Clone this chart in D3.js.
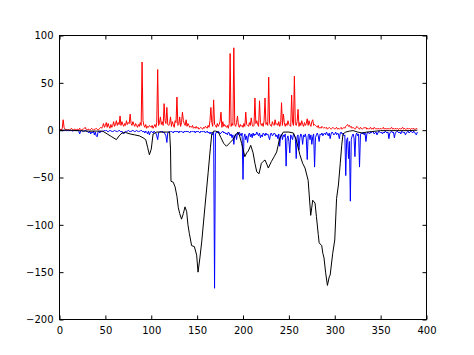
<!DOCTYPE html>
<html>
<head>
<meta charset="utf-8">
<script src="https://cdn.jsdelivr.net/npm/d3@7"></script>
<style>
  body { margin: 0; background: #fff; }
  text { font-family: "DejaVu Sans", sans-serif; font-size: 10px; fill: #000; }
</style>
</head>
<body>
<div id="chart"></div>
<script>
// tick values
var xTicks = [0, 50, 100, 150, 200, 250, 300, 350, 400];
var yTicks = [-200, -150, -100, -50, 0, 50, 100];

// red series, one value per x = 0..390
var redValues = [
  0,1,0,2,11,3,1,0,1,0, 1,0,1,2,1,0,1,1,0,1, 1,0,2,1,0,1,1,2,3,1, 0,1,1,0,1,2,1,0,1,1,
  2,1,0,1,2,3,2,4,7,3, 5,8,3,7,4,2,6,3,5,9, 4,6,10,5,8,6,15,5,9,6, 4,7,5,10,6,8,7,17,7,5,
  9,6,4,7,5,3,6,4,8,5, 72,10,5,3,6,2,4,3,5,4, 3,5,2,4,6,3,8,64,5,8, 14,6,9,5,28,10,7,24,6,5,
  7,14,4,9,6,3,10,8,35,5, 6,14,4,8,19,10,7,5,11,4, 7,5,3,4,3,5,2,3,2,4, 2,3,1,2,3,2,1,3,2,4,
  3,2,5,3,10,24,8,4,32,6, 5,3,7,4,6,9,19,3,9,4, 6,4,3,5,2,7,81,4,7,5, 87,6,4,8,15,5,3,6,4,5,
  3,7,4,19,6,5,4,8,5,13, 6,4,5,34,7,10,6,4,31,8, 5,7,4,10,34,6,8,5,56,7, 5,4,9,6,5,11,6,7,5,9,
  4,6,29,5,17,8,4,7,5,10, 6,5,4,37,8,5,57,7,5,9, 22,4,8,5,10,6,4,8,5,7, 12,5,10,6,4,9,11,5,6,5,
  4,3,5,2,3,2,4,3,2,3, 2,3,1,2,3,2,1,2,3,2, 1,2,3,1,2,1,2,3,1,2, 3,2,4,5,6,4,5,3,4,2,
  3,2,1,2,4,3,2,1,3,2, 1,2,3,2,3,1,2,1,2,3, 1,2,1,3,2,1,2,1,2,1, 2,1,2,3,1,2,1,2,1,2,
  1,2,3,1,2,1,2,1,2,1, 1,2,1,2,3,1,2,1,1,2, 1,2,1,1,2,1,2,1,1,2, 1
];

// blue series, one value per x = 0..390
var blueValues = [
  0,-1,0,-1,0,-1,0,0,-1,0, -1,0,-1,0,-1,-1,0,-1,0,-1, 0,-1,-4,-1,0,-1,-2,-1,0,-1, -1,-2,-3,-1,-4,-2,-3,-1,-5,-2,
  -6,-7,-2,-1,-3,-1,-2,-1,-1,0, -1,0,-1,-2,-1,0,-1,-1,-2,-1, 0,-1,-1,-2,-1,0,-1,-2,-1,-3, -4,-2,-1,-2,-1,0,-1,-2,-1,-1,
  0,-1,-2,-1,0,-1,-2,-1,-1,0, -1,-2,-1,-3,-1,-2,-4,-1,-5,-2, -1,-2,-3,-1,-2,-3,-6,-10,-3,-2, -1,-2,-1,-3,-2,-4,-6,-13,-3,-2,
  -1,-2,-1,-2,-3,-1,-2,-1,-2,-1, -3,-1,-2,-1,-2,-3,-1,-2,-1,-2, -1,-2,-3,-1,-2,-1,-2,-1,-3,-1, -2,-1,-2,-3,-1,-2,-1,-2,-1,-3,
  -2,-1,-3,-2,-4,-2,-3,-5,-2,-167, -4,-2,-3,-1,-2,-4,-3,-2,-1,-3, -2,-4,-3,-5,-2,-3,-6,-4,-8,-5, -15,-6,-4,-10,-3,-5,-2,-4,-6,-3,
  -52,-8,-4,-10,-6,-13,-5,-3,-7,-4, -8,-3,-6,-4,-5,-2,-4,-6,-3,-8, -5,-7,-3,-4,-6,-3,-5,-4,-7,-10, -4,-3,-6,-5,-3,-4,-7,-5,-9,-4,
  -17,-6,-4,-10,-5,-7,-4,-38,-9,-6, -12,-24,-5,-7,-10,-4,-6,-8,-30,-7, -5,-21,-8,-4,-6,-15,-5,-7,-4,-9, -31,-6,-4,-10,-5,-15,-7,-4,-39,-8,
  -5,-3,-6,-12,-4,-5,-3,-6,-4,-3, -5,-2,-4,-6,-3,-9,-4,-2,-3,-5, -4,-2,-5,-3,-4,-9,-3,-2,-4,-3, -6,-5,-48,-10,-8,-30,-12,-75,-10,-6,
  -4,-8,-28,-5,-3,-6,-4,-39,-5,-3, -4,-2,-5,-3,-12,-4,-2,-3,-4,-2, -3,-1,-2,-4,-3,-2,-5,-3,-1,-2, -3,-2,-4,-2,-3,-1,-2,-3,-2,-9,
  -3,-2,-1,-3,-2,-8,-3,-2,-1,-2, -3,-2,-4,-1,-2,-3,-2,-5,-3,-2, -1,-3,-2,-1,-2,-3,-1,-2,-4,-5, -2
];

// black series as [x, y] vertices
var blackPoints = [
  [0,0],[10,0],[20,-0.5],[30,-1],[40,-1],[47,-1],[52,-4],[57,-7],[62,-10],[65,-6],[68,-3],[72,-2.5],
  [77,-4],[82,-5],[87,-6],[91,-8],[94,-10],[96,-18],[98,-26],[100,-20],[102,-4],[106,-2],[112,-2],
  [117,-2],[120,-2],[121,-20],[121.5,-54],[124,-55],[126,-60],[128,-70],[129.5,-82],[131,-88],[133,-94],
  [135,-88],[136.8,-81],[138.6,-86],[140,-100],[141.5,-109],[144,-122],[147,-123],[149.5,-132],[151,-150],
  [153,-135],[155,-118],[158.5,-81],[162,-45],[164.5,-18],[166,-4],[168,-1],[170,-1],[173,-2],[176,-8],
  [179,-14],[182,-17],[186,-13],[189,-10],[192,-5],[194.5,-2],[196,-5],[198.5,-14],[200,-20],[202,-28],
  [204,-24],[205.8,-22],[208.4,-16],[211,-24],[213,-35],[215,-44],[217.5,-46],[220,-35],[222,-33],
  [224,-31.5],[226,-36],[227.6,-40],[231,-33],[234,-28],[236.7,-23],[240,-8.6],[244,-2],[250,-2],
  [255,-3],[258,-10],[262,-26],[265,-35],[267.6,-40],[271,-53],[273.8,-90],[276,-74],[278.5,-77],
  [280,-91],[282,-110],[283,-119],[285.8,-122],[287,-130],[288.3,-135],[290,-150],[292,-164],[294,-155],
  [295,-153],[297.8,-130],[300,-116],[302,-72],[304,-58],[306,-35],[307.6,-16],[309,-4],[312,-2],
  [316,-1],[320,-0.5],[325,-2],[330,-3],[335,-2],[340,-1.5],[345,-1],[350,-0.5],[360,-0.5],[370,-0.5],
  [380,-0.5],[390,0]
];

var plotLeft = 59.5, plotRight = 426.5, plotTop = 35.5, plotBottom = 319.5;

var svg = d3.select("#chart").append("svg")
    .attr("width", 474)
    .attr("height", 355);

var x = d3.scaleLinear().domain([0, 400]).range([plotLeft, plotRight]);
var y = d3.scaleLinear().domain([-200, 100]).range([plotBottom, plotTop]);

var line = d3.line()
    .x(function (d) { return x(d[0]); })
    .y(function (d) { return y(d[1]); });

var redData = redValues.map(function (v, i) { return [i, v]; });
var blueData = blueValues.map(function (v, i) { return [i, v]; });

svg.append("path").datum(redData)
    .attr("d", line).attr("fill", "none").attr("stroke", "#ff0000").attr("stroke-width", 1);
svg.append("path").datum(blueData)
    .attr("d", line).attr("fill", "none").attr("stroke", "#0000ff").attr("stroke-width", 1);
svg.append("path").datum(blackPoints)
    .attr("d", line).attr("fill", "none").attr("stroke", "#000").attr("stroke-width", 1);

// axes: ticks inside, on all four sides
svg.append("g")
    .attr("transform", "translate(0," + plotBottom + ")")
    .call(d3.axisBottom(x).tickValues(xTicks).tickSizeInner(-4).tickSizeOuter(0).tickPadding(7))
    .call(function (g) { g.select(".domain").remove(); });
svg.append("g")
    .attr("transform", "translate(0," + plotTop + ")")
    .call(d3.axisTop(x).tickValues(xTicks).tickSizeInner(-4).tickSizeOuter(0).tickFormat(""))
    .call(function (g) { g.select(".domain").remove(); });
svg.append("g")
    .attr("transform", "translate(" + plotLeft + ",0)")
    .call(d3.axisLeft(y).tickValues(yTicks).tickSizeInner(-4).tickSizeOuter(0).tickPadding(6))
    .call(function (g) { g.select(".domain").remove(); });
svg.append("g")
    .attr("transform", "translate(" + plotRight + ",0)")
    .call(d3.axisRight(y).tickValues(yTicks).tickSizeInner(-4).tickSizeOuter(0).tickFormat(""))
    .call(function (g) { g.select(".domain").remove(); });

svg.selectAll(".tick text")
    .style("font-family", "'DejaVu Sans', sans-serif")
    .style("font-size", "10px")
    .attr("fill", "#000");
svg.selectAll(".tick line").attr("stroke", "#000");

svg.append("rect")
    .attr("x", plotLeft).attr("y", plotTop)
    .attr("width", plotRight - plotLeft).attr("height", plotBottom - plotTop)
    .attr("fill", "none").attr("stroke", "#000").attr("stroke-width", 1);
</script>
</body>
</html>
